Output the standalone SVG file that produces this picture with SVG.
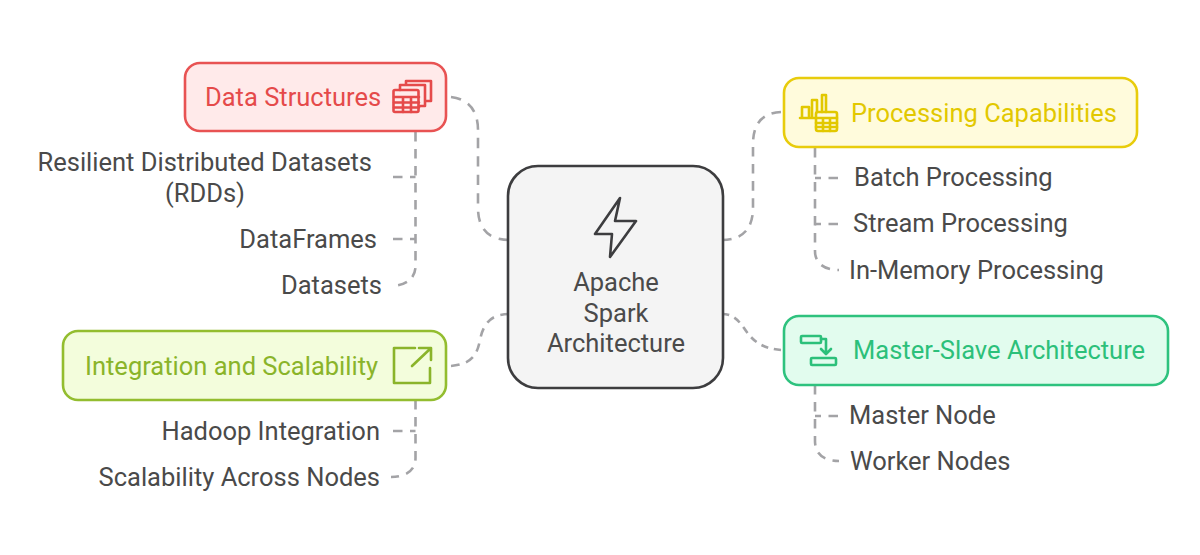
<svg xmlns="http://www.w3.org/2000/svg" width="1200" height="555" viewBox="0 0 1200 555">
<style>
text{font-family:Roboto,"Liberation Sans",sans-serif;font-size:25.5px;fill:#4a4a4a}
.c{fill:none;stroke:#a3a3a6;stroke-width:2.6;stroke-dasharray:9.500 7.500}
.i{fill:none;stroke-width:2.6;stroke-linejoin:round;stroke-linecap:round}
.r{stroke-width:2.6}
</style>
<rect width="1200" height="555" fill="#fff"/>
<g id="connectors">
<path class="c" pathLength="162.500" d="M451 97C468 99 478 110 478 130V208C478 228 488 240 509 240"/>
<path class="c" pathLength="162.500" d="M781 112C762 113 753 124 753 144V208C753 228 743 240 722 240"/>
<path class="c" pathLength="94.500" d="M451 366C472 364 477 355 480 340C483 325 490 314 509 314"/>
<path class="c" pathLength="94.500" d="M781 350C760 348 752 340 744 328C738 320 733 314 722 314"/>
<path class="c" d="M415.500 132V266C415.500 279 405 286 391 286"/>
<path class="c" d="M393 177H415.500"/>
<path class="c" d="M393 239H415.500"/>
<path class="c" d="M815 148V251C815 264 825 270 839 270"/>
<path class="c" d="M838 178H815"/>
<path class="c" d="M838 224H815"/>
<path class="c" d="M415.500 400V458C415.500 471 405 477 391 477"/>
<path class="c" d="M393 431H415.500"/>
<path class="c" d="M815 385V441C815 455 825 461 839 461"/>
<path class="c" d="M838 416H815"/>
</g>
<g id="center">
<rect x="508" y="166" width="215" height="222" rx="30" fill="#f4f4f4" stroke="#3d3d3f" stroke-width="2.6"/>
<path class="i" d="M620 198L595 234H612L610 257L636 221H615Z" style="stroke:#3d3d3f"/>
<text x="616" y="291" text-anchor="middle">Apache</text>
<text x="616" y="322" text-anchor="middle">Spark</text>
<text x="616" y="352" text-anchor="middle">Architecture</text>
</g>
<g id="data-structures">
<rect class="r" x="185" y="63" width="261" height="68" rx="15" fill="#ffeaea" stroke="#e85353"/>
<text x="205" y="106" style="fill:#e54a4a">Data Structures</text>
<g class="i" style="stroke:#e54a4a">
<rect x="393.500" y="90" width="25" height="22" rx="1.500"/>
<path d="M394 97H419M394 102.500H419M394 107.500H419M403 97V112M411 97V112M400 90V85H425V106H419M406 85V81H431V101H425"/>
</g>
</g>
<g id="processing-capabilities">
<rect class="r" x="784" y="78" width="353" height="69" rx="15" fill="#fffbdc" stroke="#e8cc0c"/>
<text x="851" y="122" style="fill:#e2c800">Processing Capabilities</text>
<g class="i" style="stroke:#e2c800">
<path d="M800 118H815M802 118V107H809V118M812 118V100H817V112M822 112V95H826V112"/>
<rect x="816" y="112" width="21" height="19" rx="2"/>
<path d="M816 118H837M816 123H837M816 127H837M823 118V131M830 118V131"/>
</g>
</g>
<g id="integration">
<rect class="r" x="63" y="331" width="383" height="69" rx="15" fill="#f3fddc" stroke="#93bd2f"/>
<text x="85" y="375" style="fill:#8ab42a">Integration and Scalability</text>
<g class="i" style="stroke:#8ab42a">
<path d="M415 348H394V383H430V368"/>
<path d="M412 366L430 349M419 348H431V360"/>
</g>
</g>
<g id="master-slave">
<rect class="r" x="784" y="316" width="384" height="69" rx="15" fill="#e2fcee" stroke="#2ec27e"/>
<text x="853" y="359" style="fill:#2cc07a">Master-Slave Architecture</text>
<g class="i" style="stroke:#2cc07a">
<rect x="801" y="336" width="20" height="7" rx="1"/>
<rect x="811" y="358" width="25" height="7" rx="1"/>
<path d="M821 339H826V353M821 349L826 354L831 349"/>
</g>
</g>
<g id="labels-left">
<text x="372" y="171" text-anchor="end">Resilient Distributed Datasets</text>
<text x="205" y="202" text-anchor="middle">(RDDs)</text>
<text x="377" y="248" text-anchor="end">DataFrames</text>
<text x="382" y="294" text-anchor="end">Datasets</text>
<text x="380" y="440" text-anchor="end">Hadoop Integration</text>
<text x="380" y="486" text-anchor="end">Scalability Across Nodes</text>
</g>
<g id="labels-right">
<text x="854" y="186">Batch Processing</text>
<text x="853" y="232">Stream Processing</text>
<text x="849" y="279">In-Memory Processing</text>
<text x="849" y="424">Master Node</text>
<text x="850" y="470">Worker Nodes</text>
</g>
</svg>
